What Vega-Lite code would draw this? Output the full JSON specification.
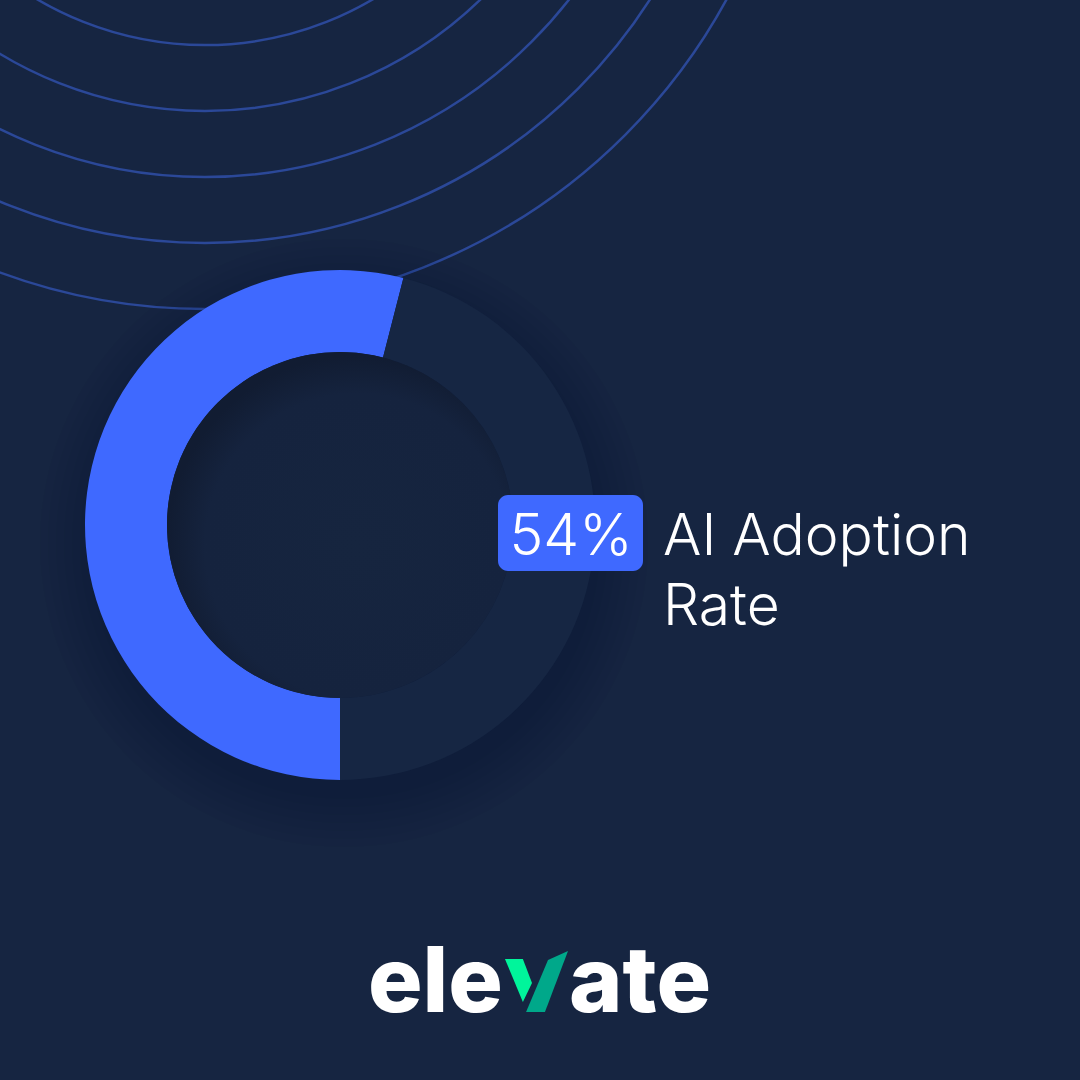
{
  "$schema": "https://vega.github.io/schema/vega-lite/v6.json",
  "width": 1080,
  "height": 1080,
  "padding": 0,
  "autosize": {"type": "none"},
  "background": "#162541",
  "config": {"view": {"stroke": null}, "axis": {"disable": true}},
  "resolve": {"scale": {"size": "independent"}},
  "datasets": {
    "rings": [{"ring": 5}, {"ring": 6}, {"ring": 7}, {"ring": 8}, {"ring": 9}],
    "halo": [{"k": 32}, {"k": 33}, {"k": 34}, {"k": 35}, {"k": 36}, {"k": 37}, {"k": 38}],
    "share": [
      {"segment": "Adopted", "value": 54},
      {"segment": "Not adopted", "value": 46}
    ]
  },
  "layer": [
    {
      "data": {"name": "rings"},
      "mark": {"type": "point", "shape": "circle", "filled": false, "stroke": "#2b4898", "strokeWidth": 2.5, "opacity": 1, "clip": true},
      "encoding": {
        "x": {"datum": 205, "type": "quantitative", "scale": {"domain": [0, 1080], "range": [0, 1080], "nice": false, "zero": false}, "axis": null},
        "y": {"datum": -285, "type": "quantitative", "scale": {"domain": [0, 1080], "range": [0, 1080], "nice": false, "zero": false}, "axis": null},
        "size": {"field": "ring", "type": "quantitative", "scale": {"type": "pow", "exponent": 2, "domain": [0, 9], "range": [0, 1411344]}, "legend": null}
      }
    },
    {
      "data": {"name": "halo"},
      "mark": {"type": "point", "shape": "circle", "filled": true, "fill": "#050a16", "fillOpacity": 0.028, "strokeWidth": 0},
      "encoding": {
        "x": {"datum": 344, "type": "quantitative", "scale": {"domain": [0, 1080], "range": [0, 1080], "nice": false, "zero": false}, "axis": null},
        "y": {"datum": 543, "type": "quantitative", "scale": {"domain": [0, 1080], "range": [0, 1080], "nice": false, "zero": false}, "axis": null},
        "size": {"field": "k", "type": "quantitative", "scale": {"type": "pow", "exponent": 2, "domain": [0, 40], "range": [0, 409600]}, "legend": null}
      }
    },
    {
      "data": {"name": "share"},
      "mark": {"type": "arc", "radius": 255, "radius2": 173},
      "encoding": {
        "x": {"datum": 340, "type": "quantitative", "scale": {"domain": [0, 1080], "range": [0, 1080], "nice": false, "zero": false}, "axis": null},
        "y": {"datum": 525, "type": "quantitative", "scale": {"domain": [0, 1080], "range": [0, 1080], "nice": false, "zero": false}, "axis": null},
        "theta": {"field": "value", "type": "quantitative", "stack": true, "scale": {"range": [3.14159265, 9.42477796]}},
        "color": {"field": "segment", "type": "nominal", "sort": ["Adopted", "Not adopted"], "scale": {"domain": ["Adopted", "Not adopted"], "range": ["#3f69ff", "#162643"]}, "legend": null},
        "order": {"field": "segment", "sort": "ascending"}
      }
    },
    {
      "data": {"values": [{"part": "hole"}]},
      "mark": {
        "type": "point", "shape": "circle", "filled": true, "size": 119716, "strokeWidth": 0, "opacity": 1,
        "fill": {"gradient": "radial", "x1": 0.55, "y1": 0.56, "r1": 0, "x2": 0.55, "y2": 0.56, "r2": 0.55,
          "stops": [{"offset": 0, "color": "#16253f"}, {"offset": 0.8, "color": "#15233e"}, {"offset": 1, "color": "#111c32"}]}
      },
      "encoding": {
        "x": {"datum": 340, "type": "quantitative", "scale": {"domain": [0, 1080], "range": [0, 1080], "nice": false, "zero": false}, "axis": null},
        "y": {"datum": 525, "type": "quantitative", "scale": {"domain": [0, 1080], "range": [0, 1080], "nice": false, "zero": false}, "axis": null}
      }
    },
    {
      "data": {"values": [{"part": "badge"}]},
      "mark": {"type": "rect", "color": "#3f69ff", "cornerRadius": 10},
      "encoding": {
        "x": {"datum": 498, "type": "quantitative", "scale": {"domain": [0, 1080], "range": [0, 1080], "nice": false, "zero": false}, "axis": null},
        "x2": {"datum": 643},
        "y": {"datum": 495, "type": "quantitative", "scale": {"domain": [0, 1080], "range": [0, 1080], "nice": false, "zero": false}, "axis": null},
        "y2": {"datum": 571}
      }
    },
    {
      "data": {"values": [{"label": "54%"}]},
      "mark": {"type": "text", "font": "Inter", "fontWeight": 300, "fontSize": 57, "color": "#ffffff", "align": "center", "baseline": "alphabetic"},
      "encoding": {
        "x": {"datum": 571, "type": "quantitative", "scale": {"domain": [0, 1080], "range": [0, 1080], "nice": false, "zero": false}, "axis": null},
        "y": {"datum": 555, "type": "quantitative", "scale": {"domain": [0, 1080], "range": [0, 1080], "nice": false, "zero": false}, "axis": null},
        "text": {"field": "label"}
      }
    },
    {
      "data": {"values": [{"label": "AI Adoption", "line": 555}, {"label": "Rate", "line": 625}]},
      "mark": {"type": "text", "font": "Inter", "fontWeight": 300, "fontSize": 57, "color": "#ffffff", "align": "left", "baseline": "alphabetic"},
      "encoding": {
        "x": {"datum": 663, "type": "quantitative", "scale": {"domain": [0, 1080], "range": [0, 1080], "nice": false, "zero": false}, "axis": null},
        "y": {"field": "line", "type": "quantitative", "scale": {"domain": [0, 1080], "range": [0, 1080], "nice": false, "zero": false}, "axis": null},
        "text": {"field": "label"}
      }
    },
    {
      "data": {"values": [{"label": "ele"}]},
      "mark": {"type": "text", "font": "Inter", "fontWeight": 800, "fontSize": 91, "color": "#ffffff", "align": "right", "baseline": "alphabetic", "letterSpacing": -1},
      "encoding": {
        "x": {"datum": 503, "type": "quantitative", "scale": {"domain": [0, 1080], "range": [0, 1080], "nice": false, "zero": false}, "axis": null},
        "y": {"datum": 1012, "type": "quantitative", "scale": {"domain": [0, 1080], "range": [0, 1080], "nice": false, "zero": false}, "axis": null},
        "text": {"field": "label"}
      }
    },
    {
      "data": {"values": [{"label": "ate"}]},
      "mark": {"type": "text", "font": "Inter", "fontWeight": 800, "fontSize": 91, "color": "#ffffff", "align": "left", "baseline": "alphabetic", "letterSpacing": -1},
      "encoding": {
        "x": {"datum": 569, "type": "quantitative", "scale": {"domain": [0, 1080], "range": [0, 1080], "nice": false, "zero": false}, "axis": null},
        "y": {"datum": 1012, "type": "quantitative", "scale": {"domain": [0, 1080], "range": [0, 1080], "nice": false, "zero": false}, "axis": null},
        "text": {"field": "label"}
      }
    },
    {
      "data": {"values": [{"part": "v-left"}]},
      "mark": {"type": "point", "shape": "M-0.97,-0.72L-0.41,-0.72L-0.125,0.03L-0.41,0.625Z", "filled": true, "fill": "#00f59b", "size": 4096, "strokeWidth": 0, "opacity": 1},
      "encoding": {
        "x": {"datum": 536, "type": "quantitative", "scale": {"domain": [0, 1080], "range": [0, 1080], "nice": false, "zero": false}, "axis": null},
        "y": {"datum": 982, "type": "quantitative", "scale": {"domain": [0, 1080], "range": [0, 1080], "nice": false, "zero": false}, "axis": null}
      }
    },
    {
      "data": {"values": [{"part": "v-right"}]},
      "mark": {"type": "point", "shape": "M0.375,-0.69L1.0,-0.97L0.28,0.94L-0.31,0.94Z", "filled": true, "fill": "#00a88a", "size": 4096, "strokeWidth": 0, "opacity": 1},
      "encoding": {
        "x": {"datum": 536, "type": "quantitative", "scale": {"domain": [0, 1080], "range": [0, 1080], "nice": false, "zero": false}, "axis": null},
        "y": {"datum": 982, "type": "quantitative", "scale": {"domain": [0, 1080], "range": [0, 1080], "nice": false, "zero": false}, "axis": null}
      }
    }
  ]
}
